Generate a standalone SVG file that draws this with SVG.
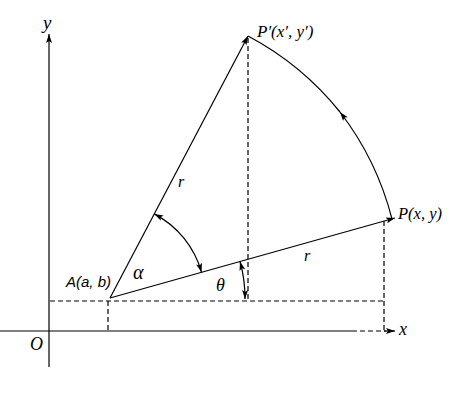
<svg xmlns="http://www.w3.org/2000/svg" width="462" height="400" viewBox="0 0 462 400">
<style>
.ln{stroke:#000;stroke-width:1.2;fill:none}
.ds{stroke:#000;stroke-width:1.2;fill:none;stroke-dasharray:5 3}
.t{font-family:"Liberation Serif",serif;font-style:italic;fill:#000}
.s{font-family:"Liberation Sans",sans-serif;font-style:italic;fill:#000}
</style>
<defs>
<marker id="ah" viewBox="0 0 9 6" refX="9" refY="3" markerWidth="9" markerHeight="6" markerUnits="userSpaceOnUse" orient="auto-start-reverse">
<path d="M0,0 L9,3 L0,6 L2,3 z" fill="#000"/>
</marker>
</defs>
<rect width="462" height="400" fill="#fff"/>
<g id="connectors">
<line class="ln" x1="49" y1="367" x2="49" y2="34" marker-end="url(#ah)"/>
<line class="ln" x1="0" y1="331" x2="352" y2="331"/>
<line class="ds" x1="352" y1="331" x2="386" y2="331"/>
<line class="ln" x1="384" y1="331" x2="395" y2="331" marker-end="url(#ah)"/>
<line class="ds" x1="50" y1="301" x2="385" y2="301"/>
<line class="ds" x1="108" y1="301" x2="108" y2="330"/>
<line class="ds" x1="248" y1="38" x2="248" y2="301"/>
<line class="ds" x1="384" y1="221" x2="384" y2="331"/>
<line class="ln" x1="110" y1="298" x2="248" y2="36" marker-end="url(#ah)"/>
<line class="ln" x1="110" y1="298" x2="395" y2="218" marker-end="url(#ah)"/>
<path class="ln" d="M392,219 A296,296 0 0 0 340,112" marker-end="url(#ah)"/>
<path class="ln" d="M340,112 A296,296 0 0 0 248,36"/>
<path class="ln" d="M154.3,213.9 A95,95 0 0 1 201.5,272.3" marker-start="url(#ah)" marker-end="url(#ah)"/>
<path class="ln" d="M240,261.5 A135,135 0 0 1 245,299" marker-start="url(#ah)" marker-end="url(#ah)"/>
</g>
<g id="axis-y"><text class="t" x="43" y="29" font-size="19">y</text></g>
<g id="axis-x"><text class="t" x="399" y="335" font-size="18">x</text></g>
<g id="O"><text class="t" x="30" y="350" font-size="18">O</text></g>
<g id="A"><text class="s" x="66" y="287" font-size="15">A(a, b)</text></g>
<g id="P-prime"><text class="t" x="257" y="37" font-size="17">P′(x′, y′)</text></g>
<g id="P"><text class="t" x="398" y="219" font-size="16.5">P(x, y)</text></g>
<g id="alpha"><text class="t" x="133" y="279" font-size="20">α</text></g>
<g id="theta"><text class="t" x="216" y="291" font-size="18">θ</text></g>
<g id="r1"><text class="t" x="178" y="187" font-size="16">r</text></g>
<g id="r2"><text class="t" x="304" y="261" font-size="16">r</text></g>
</svg>
